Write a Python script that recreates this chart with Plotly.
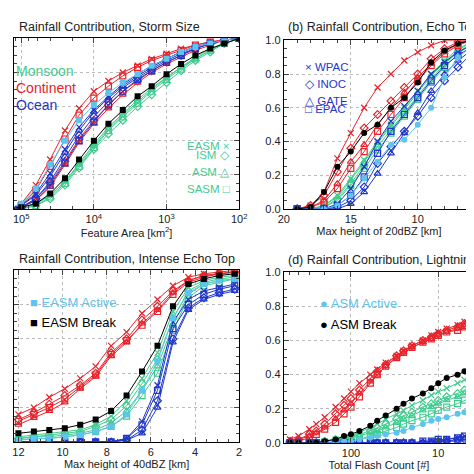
import plotly.graph_objects as go

# ---- data -----------------------------------------------------------------
area_x = [150000, 100000, 63000, 40000, 25000, 16000, 10000, 6300, 4000, 2500,
          1600, 1000, 630, 400, 250, 160, 100]
area_red = [
    [0.00, 0.03, 0.14, 0.29, 0.46, 0.59, 0.69, 0.75, 0.80, 0.84, 0.88, 0.91, 0.94, 0.96, 0.98, 0.99, 1.0],
    [0.00, 0.01, 0.06, 0.15, 0.28, 0.41, 0.52, 0.61, 0.69, 0.75, 0.81, 0.86, 0.90, 0.94, 0.97, 0.99, 1.0],
    [0.00, 0.01, 0.05, 0.13, 0.26, 0.39, 0.50, 0.59, 0.67, 0.74, 0.80, 0.85, 0.89, 0.93, 0.96, 0.99, 1.0],
    [0.00, 0.02, 0.11, 0.25, 0.41, 0.55, 0.65, 0.72, 0.78, 0.83, 0.87, 0.90, 0.93, 0.96, 0.98, 0.99, 1.0],
]
area_green = [
    [0.00, 0.01, 0.03, 0.08, 0.16, 0.27, 0.38, 0.48, 0.56, 0.64, 0.71, 0.77, 0.83, 0.89, 0.94, 0.97, 1.0],
    [0.00, 0.00, 0.02, 0.06, 0.14, 0.24, 0.35, 0.44, 0.52, 0.60, 0.67, 0.74, 0.81, 0.87, 0.92, 0.97, 1.0],
    [0.00, 0.01, 0.03, 0.08, 0.16, 0.26, 0.37, 0.47, 0.55, 0.63, 0.70, 0.77, 0.83, 0.88, 0.93, 0.97, 1.0],
    [0.00, 0.00, 0.02, 0.07, 0.15, 0.25, 0.36, 0.46, 0.54, 0.62, 0.69, 0.76, 0.82, 0.88, 0.93, 0.97, 1.0],
]
area_blue = [
    [0.00, 0.02, 0.09, 0.21, 0.35, 0.48, 0.58, 0.66, 0.73, 0.79, 0.84, 0.88, 0.92, 0.95, 0.97, 0.99, 1.0],
    [0.00, 0.01, 0.06, 0.16, 0.30, 0.43, 0.54, 0.63, 0.71, 0.77, 0.82, 0.87, 0.91, 0.94, 0.97, 0.99, 1.0],
    [0.00, 0.02, 0.08, 0.19, 0.33, 0.46, 0.57, 0.65, 0.72, 0.78, 0.83, 0.88, 0.92, 0.95, 0.97, 0.99, 1.0],
    [0.00, 0.01, 0.05, 0.14, 0.27, 0.40, 0.51, 0.61, 0.69, 0.76, 0.81, 0.86, 0.90, 0.94, 0.97, 0.99, 1.0],
]
area_active = [0.00, 0.03, 0.12, 0.26, 0.40, 0.52, 0.61, 0.68, 0.74, 0.79, 0.84, 0.88, 0.92, 0.95, 0.97, 0.99, 1.0]
area_break = [0.00, 0.01, 0.03, 0.09, 0.18, 0.29, 0.40, 0.50, 0.58, 0.66, 0.72, 0.79, 0.85, 0.90, 0.94, 0.97, 1.0]

h20_x = [19, 18, 17, 16, 15, 14, 13, 12, 11, 10, 9, 8, 7, 6]
h20_red = [
    [0.0, 0.02, 0.10, 0.30, 0.45, 0.60, 0.72, 0.80, 0.88, 0.93, 0.97, 1.0, 1.0, 1.0],
    [0.0, 0.02, 0.08, 0.22, 0.36, 0.48, 0.56, 0.64, 0.72, 0.80, 0.89, 0.95, 0.99, 1.0],
    [0.0, 0.01, 0.05, 0.15, 0.28, 0.38, 0.50, 0.60, 0.69, 0.78, 0.86, 0.93, 0.98, 1.0],
    [0.0, 0.01, 0.04, 0.12, 0.24, 0.34, 0.46, 0.56, 0.66, 0.76, 0.85, 0.92, 0.97, 1.0],
]
h20_green = [
    [0.0, 0.0, 0.02, 0.08, 0.18, 0.29, 0.40, 0.50, 0.60, 0.70, 0.80, 0.88, 0.95, 0.99],
    [0.0, 0.0, 0.01, 0.06, 0.15, 0.26, 0.37, 0.47, 0.57, 0.67, 0.77, 0.86, 0.93, 0.98],
    [0.0, 0.0, 0.02, 0.07, 0.17, 0.28, 0.39, 0.49, 0.59, 0.69, 0.79, 0.87, 0.94, 0.99],
    [0.0, 0.0, 0.01, 0.05, 0.14, 0.24, 0.35, 0.45, 0.55, 0.65, 0.75, 0.84, 0.92, 0.98],
]
h20_blue = [
    [0.0, 0.0, 0.0, 0.03, 0.12, 0.25, 0.40, 0.52, 0.61, 0.70, 0.80, 0.87, 0.93, 0.97],
    [0.0, 0.0, 0.0, 0.01, 0.05, 0.13, 0.27, 0.37, 0.46, 0.55, 0.66, 0.76, 0.84, 0.92],
    [0.0, 0.0, 0.0, 0.0, 0.03, 0.10, 0.21, 0.33, 0.45, 0.57, 0.70, 0.80, 0.88, 0.94],
    [0.0, 0.0, 0.0, 0.02, 0.08, 0.19, 0.33, 0.46, 0.56, 0.66, 0.76, 0.85, 0.91, 0.96],
]
h20_active = [0.0, 0.0, 0.0, 0.02, 0.08, 0.18, 0.28, 0.38, 0.41, 0.50, 0.60, 0.78, 0.90, 0.96]
h20_break = [0.0, 0.01, 0.10, 0.25, 0.34, 0.45, 0.50, 0.60, 0.66, 0.75, 0.87, 0.94, 0.98, 1.0]

h40_x = [12, 11.3, 10.6, 9.9, 9.2, 8.5, 7.8, 7.1, 6.4, 5.7, 5.0, 4.3, 3.6, 2.9, 2.2]
h40_red = [
    [0.16, 0.20, 0.26, 0.31, 0.37, 0.44, 0.56, 0.64, 0.75, 0.83, 0.91, 0.96, 0.98, 0.99, 1.0],
    [0.13, 0.17, 0.22, 0.27, 0.33, 0.40, 0.52, 0.60, 0.71, 0.79, 0.88, 0.94, 0.97, 0.98, 0.99],
    [0.10, 0.14, 0.18, 0.23, 0.31, 0.38, 0.50, 0.58, 0.69, 0.77, 0.87, 0.94, 0.97, 0.98, 0.99],
    [0.12, 0.16, 0.20, 0.25, 0.32, 0.39, 0.51, 0.59, 0.68, 0.76, 0.86, 0.93, 0.96, 0.98, 0.99],
]
h40_green = [
    [0.03, 0.04, 0.05, 0.06, 0.07, 0.10, 0.15, 0.24, 0.37, 0.52, 0.76, 0.90, 0.94, 0.96, 0.97],
    [0.02, 0.03, 0.04, 0.05, 0.06, 0.09, 0.13, 0.21, 0.34, 0.48, 0.72, 0.88, 0.93, 0.95, 0.96],
    [0.02, 0.03, 0.03, 0.04, 0.05, 0.07, 0.11, 0.18, 0.30, 0.44, 0.68, 0.86, 0.92, 0.94, 0.95],
    [0.01, 0.02, 0.02, 0.03, 0.04, 0.06, 0.09, 0.15, 0.27, 0.40, 0.65, 0.84, 0.91, 0.93, 0.95],
]
h40_blue = [
    [0.0, 0.0, 0.0, 0.0, 0.0, 0.0, 0.0, 0.02, 0.12, 0.33, 0.70, 0.83, 0.88, 0.90, 0.92],
    [0.0, 0.0, 0.0, 0.0, 0.0, 0.0, 0.0, 0.01, 0.07, 0.24, 0.60, 0.78, 0.84, 0.87, 0.89],
    [0.0, 0.0, 0.0, 0.0, 0.0, 0.0, 0.0, 0.01, 0.05, 0.20, 0.58, 0.77, 0.83, 0.86, 0.88],
    [0.0, 0.0, 0.0, 0.0, 0.0, 0.0, 0.0, 0.02, 0.10, 0.30, 0.66, 0.80, 0.86, 0.89, 0.91],
]
h40_active = [0.01, 0.02, 0.02, 0.03, 0.04, 0.06, 0.09, 0.16, 0.30, 0.47, 0.72, 0.87, 0.92, 0.94, 0.95]
h40_break = [0.05, 0.06, 0.07, 0.08, 0.10, 0.13, 0.18, 0.27, 0.41, 0.56, 0.79, 0.92, 0.95, 0.97, 0.98]

flash_x = [500, 400, 300, 250, 200, 150, 120, 100, 80, 60, 50, 40, 30, 25, 20, 15, 12, 10, 8, 6, 5, 4]
flash_red = [
    [0.02, 0.04, 0.08, 0.11, 0.15, 0.21, 0.26, 0.30, 0.35, 0.40, 0.43, 0.47, 0.51, 0.54, 0.57, 0.60, 0.63, 0.65, 0.67, 0.69, 0.71, 0.73],
    [0.01, 0.02, 0.05, 0.07, 0.11, 0.17, 0.22, 0.26, 0.31, 0.38, 0.42, 0.46, 0.51, 0.54, 0.57, 0.60, 0.62, 0.64, 0.66, 0.68, 0.70, 0.72],
    [0.01, 0.02, 0.04, 0.06, 0.09, 0.14, 0.19, 0.23, 0.29, 0.36, 0.40, 0.45, 0.50, 0.53, 0.56, 0.59, 0.61, 0.63, 0.65, 0.67, 0.68, 0.70],
    [0.00, 0.01, 0.03, 0.05, 0.08, 0.12, 0.17, 0.21, 0.27, 0.35, 0.40, 0.45, 0.50, 0.53, 0.56, 0.59, 0.61, 0.63, 0.65, 0.66, 0.68, 0.69],
]
flash_green = [
    [0.0, 0.0, 0.0, 0.0, 0.01, 0.02, 0.03, 0.04, 0.06, 0.09, 0.11, 0.14, 0.17, 0.19, 0.22, 0.25, 0.28, 0.30, 0.32, 0.35, 0.37, 0.39],
    [0.0, 0.0, 0.0, 0.0, 0.01, 0.02, 0.03, 0.04, 0.05, 0.07, 0.09, 0.11, 0.14, 0.16, 0.18, 0.21, 0.23, 0.25, 0.27, 0.29, 0.31, 0.33],
    [0.0, 0.0, 0.0, 0.0, 0.0, 0.01, 0.02, 0.03, 0.04, 0.06, 0.07, 0.09, 0.12, 0.14, 0.16, 0.19, 0.21, 0.23, 0.25, 0.27, 0.29, 0.31],
    [0.0, 0.0, 0.0, 0.0, 0.0, 0.0, 0.01, 0.01, 0.02, 0.04, 0.05, 0.07, 0.09, 0.11, 0.13, 0.15, 0.17, 0.19, 0.21, 0.23, 0.25, 0.27],
]
flash_blue = [
    [0.0, 0.0, 0.0, 0.0, 0.0, 0.0, 0.0, 0.0, 0.0, 0.0, 0.0, 0.0, 0.0, 0.0, 0.0, 0.0, 0.01, 0.01, 0.02, 0.03, 0.04, 0.05],
    [0.0, 0.0, 0.0, 0.0, 0.0, 0.0, 0.0, 0.0, 0.0, 0.0, 0.0, 0.0, 0.0, 0.0, 0.0, 0.0, 0.0, 0.01, 0.01, 0.02, 0.02, 0.03],
    [0.0, 0.0, 0.0, 0.0, 0.0, 0.0, 0.0, 0.0, 0.0, 0.0, 0.0, 0.0, 0.0, 0.0, 0.0, 0.0, 0.0, 0.0, 0.01, 0.01, 0.02, 0.02],
    [0.0, 0.0, 0.0, 0.0, 0.0, 0.0, 0.0, 0.0, 0.0, 0.0, 0.0, 0.0, 0.0, 0.0, 0.0, 0.01, 0.01, 0.02, 0.02, 0.03, 0.04, 0.05],
]
flash_active = [0.0, 0.0, 0.0, 0.0, 0.0, 0.0, 0.01, 0.01, 0.02, 0.03, 0.04, 0.05, 0.06, 0.07, 0.09, 0.11, 0.13, 0.14, 0.15, 0.17, 0.18, 0.19]
flash_break = [0.0, 0.0, 0.0, 0.0, 0.01, 0.02, 0.04, 0.05, 0.07, 0.10, 0.13, 0.16, 0.20, 0.23, 0.26, 0.29, 0.32, 0.35, 0.38, 0.40, 0.42, 0.44]

RED = '#e8232b'
GREEN = '#3fcc8e'
BLUE = '#1f36c9'
LBLUE = '#5cc4ee'
symbols = ['x-thin-open', 'diamond-open', 'triangle-up-open', 'square-open']

fig = go.Figure()


def add_panel(xa, ya, x, reds, greens, blues, active, brk, fill_sym):
    for grp, col in [(greens, GREEN), (reds, RED), (blues, BLUE)]:
        for ys, sym in zip(grp, symbols):
            fig.add_trace(go.Scatter(x=x, y=ys, xaxis=xa, yaxis=ya, mode='lines+markers',
                                     line=dict(color=col, width=1),
                                     marker=dict(symbol=sym, size=6, color=col, line=dict(width=1.2, color=col)),
                                     showlegend=False))
    for ys, col in [(active, LBLUE), (brk, 'black')]:
        fig.add_trace(go.Scatter(x=x, y=ys, xaxis=xa, yaxis=ya, mode='lines+markers',
                                 line=dict(color=col, width=1),
                                 marker=dict(symbol=fill_sym, size=6, color=col),
                                 showlegend=False))


add_panel('x', 'y', area_x, area_red, area_green, area_blue, area_active, area_break, 'square')
add_panel('x2', 'y2', h20_x, h20_red, h20_green, h20_blue, h20_active, h20_break, 'circle')
add_panel('x3', 'y3', h40_x, h40_red, h40_green, h40_blue, h40_active, h40_break, 'square')
add_panel('x4', 'y4', flash_x, flash_red, flash_green, flash_blue, flash_active, flash_break, 'circle')

W = 474.0
font = dict(family='Liberation Sans, Arial', size=11, color='#222')
ax = dict(showline=True, linecolor='black', linewidth=1, mirror='ticks', ticks='inside',
          ticklen=5, showgrid=True, gridcolor='#bbbbbb', griddash='dot', zeroline=False,
          tickfont=font, title_font=font, title_standoff=2)
yax = dict(ax, range=[0, 1], dtick=0.2, tickformat='.1f',
           minor=dict(ticks='inside', ticklen=3, dtick=0.05))

fig.update_layout(
    width=474, height=474, margin=dict(l=0, r=0, t=0, b=0),
    plot_bgcolor='white', paper_bgcolor='white', font=font,
    xaxis=dict(ax, type='log', range=[5.1, 2.0], domain=[0, 232 / W], anchor='y',
               tickvals=[1e5, 1e4, 1e3, 1e2], ticktext=['10<sup>5</sup>', '10<sup>4</sup>', '10<sup>3</sup>', '10<sup>2</sup>'],
               minor=dict(ticks='inside', ticklen=3), title_text='Feature Area [km<sup>2</sup>]'),
    yaxis=dict(yax, domain=[1 - 200 / W, 1 - 25 / W], anchor='x', showticklabels=False),
    xaxis2=dict(ax, range=[20, 5.8], domain=[278 / W, 1], anchor='y2', dtick=5,
                minor=dict(ticks='inside', ticklen=3, dtick=1), title_text='Max height of 20dBZ [km]'),
    yaxis2=dict(yax, domain=[1 - 200 / W, 1 - 27 / W], anchor='x2'),
    xaxis3=dict(ax, range=[12.2, 2.0], domain=[0, 232 / W], anchor='y3', dtick=2,
                minor=dict(ticks='inside', ticklen=3, dtick=0.5), title_text='Max height of 40dBZ [km]'),
    yaxis3=dict(yax, domain=[1 - 439 / W, 1 - 263 / W], anchor='x3', showticklabels=False),
    xaxis4=dict(ax, type='log', range=[2.77, 0.59], domain=[278 / W, 1], anchor='y4',
                tickvals=[100, 10], ticktext=['100', '10'],
                minor=dict(ticks='inside', ticklen=3), title_text='Total Flash Count [#]'),
    yaxis4=dict(yax, domain=[1 - 440 / W, 1 - 265 / W], anchor='x4'),
)

tfont = dict(family='Liberation Sans, Arial', size=12.5, color='#222')
ann = [
    (3 / W, 1 - 13 / W, 'Rainfall Contribution, Storm Size', tfont),
    (280 / W, 1 - 13 / W, '(b) Rainfall Contribution, Echo To', tfont),
    (3 / W, 1 - 251 / W, 'Rainfall Contribution, Intense Echo Top', tfont),
    (280 / W, 1 - 252 / W, '(d) Rainfall Contribution, Lightnin', tfont),
]
for x, y, t, f in ann:
    fig.add_annotation(x=x, y=y, xref='paper', yref='paper', text=t, showarrow=False,
                       xanchor='left', yanchor='middle', font=f)

lfont = dict(family='Liberation Sans, Arial', size=14)
for i, (t, c) in enumerate([('Monsoon', GREEN), ('Continent', RED), ('Ocean', BLUE)]):
    fig.add_annotation(x=0.0, y=0.87 - i * 0.1, xref='x domain', yref='y domain', text=t,
                       showarrow=False, xanchor='left', font=dict(lfont, color=c))
for i, t in enumerate(['EASM \u00d7', 'ISM \u25c7', 'ASM \u25b3', 'SASM \u25a1']):
    fig.add_annotation(x=0.97, y=0.37 - i * 0.1, xref='x domain', yref='y domain', text=t,
                       showarrow=False, xanchor='right', font=dict(lfont, size=11.5, color=GREEN))
for i, t in enumerate(['\u00d7 WPAC', '\u25c7 INOC', '\u25b3 GATE', '\u25a1 EPAC']):
    fig.add_annotation(x=0.1, y=0.89 - i * 0.1, xref='x2 domain', yref='y2 domain', text=t,
                       showarrow=False, xanchor='left', font=dict(lfont, size=11.5, color=BLUE))
for i, t in enumerate(['S', 'W', 'C', 'A']):
    fig.add_annotation(x=465 / W, y=1 - (136 + i * 15) / W, xref='paper', yref='paper', text=t,
                       showarrow=False, xanchor='left', font=dict(lfont, size=12, color=RED))
for i, (t, c) in enumerate([('\u25a0 EASM Active', LBLUE), ('\u25a0 EASM Break', 'black')]):
    fig.add_annotation(x=0.06, y=0.87 - i * 0.12, xref='x3 domain', yref='y3 domain', text=t,
                       showarrow=False, xanchor='left', bgcolor='rgba(255,255,255,0)',
                       font=dict(lfont, size=13, color=c))
for i, (t, c) in enumerate([('\u25cf ASM Active', LBLUE), ('\u25cf ASM Break', 'black')]):
    fig.add_annotation(x=0.18, y=0.87 - i * 0.12, xref='x4 domain', yref='y4 domain', text=t,
                       showarrow=False, xanchor='left', font=dict(lfont, size=13, color=c))

fig.write_html('out.html')
